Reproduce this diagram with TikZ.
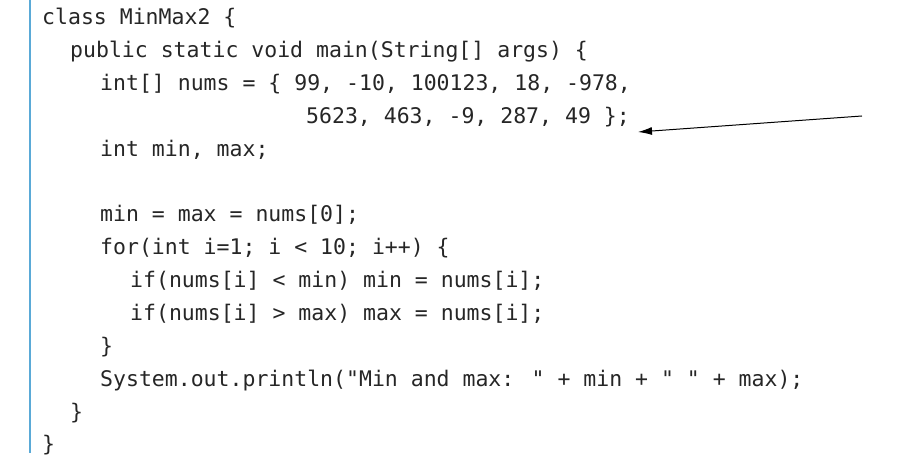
\documentclass[tikz,border=0pt]{standalone}
\usepackage{fontspec}
\usetikzlibrary{arrows.meta}
\newfontfamily\codefont{DejaVu Sans Mono}
\begin{document}
\begin{tikzpicture}[x=1pt,y=-1pt,
  code/.style={anchor=base west,inner sep=0pt,font=\codefont\fontsize{21.5}{24}\selectfont,text=black!85}]
\useasboundingbox (0,0) rectangle (922,473);
\draw[color={rgb,255:red,90;green,170;blue,215},line width=1.2pt] (30,0) -- (30,453);
\node[code] (l1) at (42,25) {class MinMax2 \{};
\node[code] (l2) at (70,58) {public static void main(String[] args) \{};
\node[code] (l3) at (100,91) {int[] nums = \{ 99, -10, 100123, 18, -978,};
\node[code] (l4) at (306,124) {5623, 463, -9, 287, 49 \};};
\node[code] (l5) at (100,157) {int min, max;};
\node[code] (l6) at (100,222) {min = max = nums[0];};
\node[code] (l7) at (100,255) {for(int i=1; i < 10; i++) \{};
\node[code] (l8) at (130,288) {if(nums[i] < min) min = nums[i];};
\node[code] (l9) at (130,321) {if(nums[i] > max) max = nums[i];};
\node[code] (l10) at (100,354) {\}};
\node[code] (l11) at (100,387) {System.out.println("Min and max: " + min + " " + max);};
\node[code] (l12) at (70,419) {\}};
\node[code] (l13) at (42,451) {\}};
\coordinate (a) at (862,116);
\draw[-{Latex[length=14pt,width=8pt]},line width=1pt] (a) -- ([xshift=8pt,yshift=-8pt]l4.base east);
\end{tikzpicture}
\end{document}
